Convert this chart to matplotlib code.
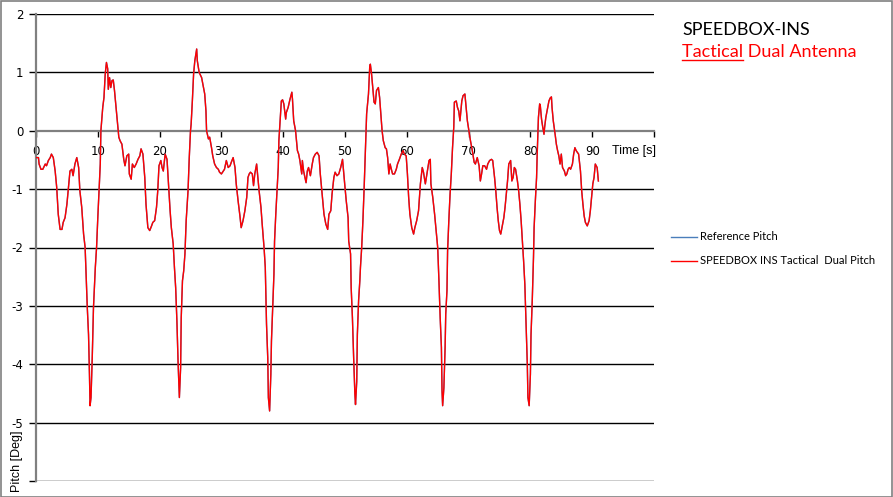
import numpy as np
import matplotlib
matplotlib.use("Agg")
import matplotlib.pyplot as plt
from matplotlib.lines import Line2D
from matplotlib.patches import Rectangle

# time [s] and pitch [deg]
time_s = [0, 0.4, 0.5, 0.8, 1.1, 1.5, 1.7, 2.0, 2.3, 2.5, 2.8, 3.1, 3.35, 3.6, 3.9, 4.2, 4.4, 4.7,
          5.0, 5.2, 5.5, 5.8, 6.0, 6.3, 6.6, 6.9, 7.1, 7.4, 7.7, 7.95, 8.1, 8.3, 8.5, 8.65, 8.75,
          8.9, 9.1, 9.3, 9.6, 9.8, 10.0, 10.2, 10.4, 10.5, 10.8, 11.0, 11.2, 11.4, 11.6, 11.7,
          11.9, 12.1, 12.3, 12.5, 12.7, 13.0, 13.2, 13.4, 13.6, 13.9, 14.2, 14.4, 14.7, 15.0,
          15.1, 15.4, 15.6, 15.9, 16.2, 16.5, 16.8, 17.0, 17.3, 17.6, 17.8, 18.1, 18.4, 18.7,
          18.9, 19.2, 19.5, 19.7, 19.9,
          20.2, 20.4, 20.6, 20.9, 21.2, 21.5, 21.7, 21.9, 22.2, 22.4, 22.6, 22.8, 23.0, 23.2,
          23.4, 23.5, 23.7, 23.9, 24.1, 24.3, 24.6, 24.8, 25.0, 25.1, 25.3, 25.5, 25.7, 26.0,
          26.1, 26.4, 26.8, 27.0, 27.3, 27.5, 27.6, 27.9, 28.1, 28.4, 28.6, 28.9, 29.2, 29.5,
          29.7, 30.0, 30.3, 30.5, 30.8, 31.1, 31.4, 31.6, 31.9, 32.2, 32.4, 32.7, 33.0, 33.2,
          33.5, 33.8, 34.1, 34.3, 34.5, 34.7, 35.0, 35.2, 35.4, 35.7, 35.8, 36.1, 36.4, 36.6,
          36.9, 37.1, 37.3, 37.5, 37.6, 37.8, 38.0, 38.1, 38.3, 38.5, 38.6, 38.8, 39.0, 39.2,
          39.3, 39.5, 39.7, 39.9, 40.1, 40.4, 40.5, 40.8, 41.1, 41.4,
          41.5, 41.7, 42.0, 42.3, 42.5, 42.7, 43.0, 43.1, 43.3, 43.7, 43.9, 44.1, 44.4, 44.7,
          44.9, 45.2, 45.5, 45.8, 46.0, 46.3, 46.6, 46.9, 47.2, 47.4, 47.7, 47.9, 48.2, 48.4,
          48.7, 49.0, 49.3, 49.6, 49.8, 50.0, 50.2, 50.5, 50.6, 50.9, 51.0, 51.2, 51.4, 51.6,
          51.7, 51.9, 52.0, 52.2, 52.4, 52.5, 52.7, 52.9, 53.1, 53.3, 53.5, 53.8, 54.0, 54.1,
          54.3, 54.5, 54.7, 54.9, 55.1, 55.4, 55.6, 55.8, 56.0, 56.2, 56.5, 56.7, 56.9, 57.1,
          57.3, 57.5, 57.7, 58.0, 58.3, 58.5, 58.8, 59.1, 59.4, 59.6, 59.9, 60.1, 60.3, 60.5,
          60.8, 61.1, 61.3, 61.6,
          61.9, 62.2, 62.5, 62.7, 63.0, 63.3, 63.6, 63.8, 63.9, 64.2, 64.5, 64.8, 65.0, 65.2,
          65.4, 65.6, 65.7, 65.8, 66.0, 66.2, 66.3, 66.5, 66.6, 66.8, 67.0, 67.2, 67.4, 67.6,
          67.7, 68.0, 68.2, 68.4, 68.6, 68.9, 69.1, 69.4, 69.6, 69.8, 70.1, 70.3, 70.6, 70.9,
          71.1, 71.4, 71.7, 71.9, 72.1, 72.3, 72.6, 72.9, 73.1, 73.4, 73.7, 73.9, 74.2, 74.4,
          74.6, 74.8, 75.0, 75.2, 75.5, 75.7, 75.9, 76.1, 76.3, 76.5, 76.8, 77.0, 77.2, 77.4,
          77.6, 77.9, 78.1, 78.3, 78.5, 78.7, 78.9, 79.1, 79.3, 79.5, 79.6, 79.8, 80.0, 80.1,
          80.3, 80.5, 80.6, 80.8, 81.0, 81.1, 81.3, 81.5,
          81.6, 81.8, 82.0, 82.2, 82.3, 82.5, 82.8, 83.0, 83.2, 83.4, 83.5, 83.7, 84.0, 84.2,
          84.4, 84.6, 84.8, 85.0, 85.2, 85.5, 85.7, 85.9, 86.1, 86.3, 86.5, 86.8, 87.0, 87.2,
          87.4, 87.6, 87.8, 88.1, 88.3, 88.5, 88.7, 88.9, 89.2, 89.5, 89.7, 89.9, 90.1, 90.3,
          90.5, 90.8, 91.0]

speedbox_pitch = [-0.46, -0.46, -0.57, -0.66, -0.66, -0.57, -0.60, -0.51, -0.46, -0.40, -0.46,
                  -0.69, -0.97, -1.43, -1.69, -1.69, -1.57, -1.49, -1.26, -1.03, -0.69, -0.66,
                  -0.77, -0.57, -0.46, -0.63, -1.03, -1.31, -1.77, -2.00, -2.46, -3.03, -3.49,
                  -4.17, -4.71, -4.57, -3.89, -3.03, -2.34, -2.00, -1.49, -1.03, -0.57, 0.0,
                  0.40, 0.57, 0.97, 1.17, 1.06, 0.71, 0.91, 0.74, 0.86, 0.87, 0.69, 0.34, 0.11,
                  -0.11, -0.17, -0.23, -0.49, -0.60, -0.43, -0.40, -0.74, -0.83, -0.57, -0.63,
                  -0.57, -0.49, -0.43, -0.31, -0.40, -0.80, -1.26, -1.66, -1.71, -1.63, -1.57,
                  -1.54, -1.31, -1.03, -0.60,
                  -0.51, -0.63, -0.69, -0.40, -0.49, -1.03, -1.37, -1.66, -1.94, -2.34, -2.69,
                  -3.26, -4.00, -4.57, -4.06, -3.20, -2.57, -2.40, -2.11, -1.54, -1.03, -0.46,
                  0.0, 0.11, 0.51, 0.97, 1.20, 1.40, 1.20, 1.00, 0.91, 0.80, 0.63, 0.34, 0.0,
                  -0.14, -0.11, -0.29, -0.43, -0.57, -0.63, -0.66, -0.71, -0.74, -0.69, -0.66,
                  -0.51, -0.63, -0.60, -0.54, -0.46, -0.63, -0.91, -1.20, -1.46, -1.66, -1.54,
                  -1.37, -1.14, -0.80, -0.74, -0.71, -0.74, -0.94, -0.74, -0.57, -0.69, -1.03,
                  -1.31, -1.60, -2.00, -2.34, -3.31, -3.89, -4.57, -4.80, -4.17, -3.60, -3.03,
                  -2.46, -1.89, -1.43, -1.03, -0.63, -0.17, 0.17, 0.51, 0.53, 0.46, 0.20, 0.31,
                  0.40, 0.54, 0.66,
                  0.54, 0.17, 0.0, -0.34, -0.40, -0.51, -0.74, -0.51, -0.69, -0.89, -0.69, -0.63,
                  -0.77, -0.57, -0.46, -0.40, -0.37, -0.43, -0.74, -1.09, -1.43, -1.60, -1.69,
                  -1.43, -1.37, -1.09, -0.80, -0.71, -0.77, -0.74, -0.63, -0.49, -0.74, -0.97,
                  -1.20, -1.49, -1.89, -2.11, -2.69, -3.20, -3.89, -4.51, -4.69, -4.29, -3.49,
                  -2.91, -2.57, -2.34, -2.00, -1.54, -0.97, -0.34, 0.29, 0.63, 1.09, 1.14, 0.97,
                  0.74, 0.49, 0.46, 0.69, 0.74, 0.57, 0.29, 0.0, -0.17, -0.29, -0.31, -0.46,
                  -0.74, -0.57, -0.66, -0.74, -0.74, -0.66, -0.57, -0.49, -0.40, -0.34, -0.40,
                  -0.43, -0.74, -1.14, -1.43, -1.66, -1.77, -1.66, -1.54,
                  -1.37, -0.91, -0.63, -0.71, -0.91, -0.71, -0.51, -0.49, -0.91, -1.14, -1.43,
                  -1.77, -2.00, -2.57, -3.20, -3.71, -4.46, -4.71, -4.40, -3.71, -3.14, -2.74,
                  -2.06, -1.54, -1.09, -0.74, -0.29, 0.06, 0.49, 0.51, 0.40, 0.34, 0.17, 0.51,
                  0.60, 0.63, 0.40, 0.17, -0.03, -0.17, -0.34, -0.54, -0.57, -0.46, -0.60, -0.86,
                  -0.74, -0.60, -0.60, -0.66, -0.57, -0.51, -0.49, -0.51, -0.80, -1.03, -1.31,
                  -1.54, -1.71, -1.77, -1.60, -1.49, -1.31, -1.09, -0.86, -0.57, -0.51, -0.86,
                  -0.80, -0.63, -0.66, -0.86, -1.03, -1.26, -1.54, -1.89, -2.23, -2.63, -3.31,
                  -4.00, -4.57, -4.71, -4.17, -3.49, -2.91, -2.17, -1.66, -1.20, -0.80, -0.40,
                  0.23, 0.46,
                  0.43, 0.20, 0.06, -0.06, 0.06, 0.23, 0.40, 0.51, 0.56, 0.58, 0.40, 0.17, -0.06,
                  -0.23, -0.34, -0.43, -0.57, -0.40, -0.63, -0.69, -0.77, -0.74, -0.66, -0.63,
                  -0.66, -0.57, -0.40, -0.29, -0.34, -0.37, -0.40, -0.69, -1.03, -1.26, -1.46,
                  -1.57, -1.63, -1.54, -1.37, -1.14, -0.91, -0.80, -0.57, -0.63, -0.86]

# the reference trace sits right under the red one in the picture
reference_pitch = list(speedbox_pitch)

x_ticks = [0, 10, 20, 30, 40, 50, 60, 70, 80, 90, 100]
x_tick_labels = ['0', '10', '20', '30', '40', '50', '60', '70', '80', '90', '']
y_ticks = [-6, -5, -4, -3, -2, -1, 0, 1, 2]
y_tick_labels = ['', '-5', '-4', '-3', '-2', '-1', '0', '1', '2']

W, H = 893, 497
fig = plt.figure(figsize=(W / 100, H / 100), dpi=100)
ax = fig.add_axes([36 / W, (H - 481) / H, 618 / W, 467 / H])
ax.set_xlim(0, 100)
ax.set_ylim(-6, 2)

for yv in y_ticks:
    if yv != 0:
        ax.axhline(yv, color='black', lw=1.0, zorder=1)

ax.plot(time_s, reference_pitch, color='#4A7EBB', lw=1.0, zorder=3)
ax.plot(time_s, speedbox_pitch, color='#FF0000', lw=1.0, zorder=4)

for s in ['top', 'right']:
    ax.spines[s].set_visible(False)
ax.spines['bottom'].set_position(('data', 0))
ax.spines['bottom'].set_color('#808080')
ax.spines['bottom'].set_linewidth(1.6)
ax.spines['bottom'].set_zorder(2)
ax.spines['left'].set_color('#808080')
ax.spines['left'].set_linewidth(1.6)

ax.set_xticks(x_ticks)
ax.set_xticklabels(x_tick_labels, fontsize=8.5, family='DejaVu Sans')
ax.set_yticks(y_ticks)
ax.set_yticklabels(y_tick_labels, fontsize=8.5, family='DejaVu Sans')
ax.tick_params(axis='x', direction='out', length=4, width=1, color='black', pad=6)
ax.tick_params(axis='y', direction='out', length=5, width=1, color='black', pad=4)

fig.text(656 / W, 1 - 151 / H, 'Time [s]', ha='right', va='center', fontsize=9,
         family='Liberation Sans')
fig.text(17 / W, 1 - 461 / H, 'Pitch [Deg]', ha='center', va='center', rotation=90,
         fontsize=9, family='Liberation Sans')

# title block
fig.text(682 / W, 1 - 35 / H, 'SPEEDBOX-INS', ha='left', va='baseline', fontsize=13,
         family='Lato', color='black')
sub = fig.text(682 / W, 1 - 57 / H, 'Tactical Dual Antenna', ha='left', va='baseline',
               fontsize=13, family='Lato', color='#FF0000')
probe = fig.text(682 / W, 1 - 57 / H, 'Tactical', ha='left', va='baseline',
                 fontsize=13, family='Lato', alpha=0)
fig.canvas.draw()
bb = probe.get_window_extent(fig.canvas.get_renderer())
fig.add_artist(Line2D([682 / W, bb.x1 / W], [1 - 60 / H, 1 - 60 / H],
                      color='#FF0000', lw=1.0, transform=fig.transFigure))

# legend
leg_items = [('Reference Pitch', '#4A7EBB', 237),
             ('SPEEDBOX INS Tactical  Dual Pitch', '#FF0000', 261)]
for label, col, yp in leg_items:
    fig.add_artist(Line2D([671 / W, 697 / W], [1 - yp / H, 1 - yp / H], color=col, lw=1.0,
                          transform=fig.transFigure))
    fig.text(700 / W, 1 - yp / H, label, ha='left', va='center', fontsize=8, family='Lato')

# outer frame
fig.add_artist(Rectangle((0.5 / W, 0.5 / H), 1 - 1.5 / W, 1 - 1.5 / H, fill=False,
                         edgecolor='#808080', lw=1.2, transform=fig.transFigure))

fig.savefig('out.png', dpi=100)
